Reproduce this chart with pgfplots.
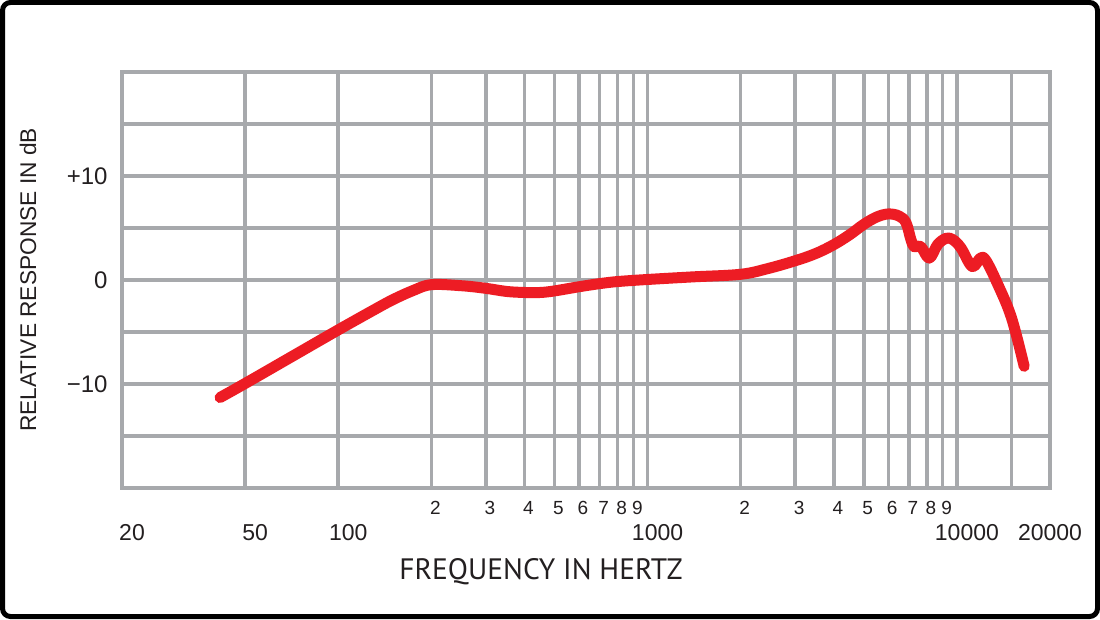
\documentclass[border=0pt]{standalone}
\usepackage{pgfplots}
\pgfplotsset{compat=1.18}
\usepackage{fontspec}
\setmainfont{Liberation Sans}
\newfontfamily\ptsans{PT Sans}
\definecolor{gridgray}{HTML}{A7A9AC}
\definecolor{curvered}{HTML}{ED1C24}
\definecolor{txt}{HTML}{231F20}
\begin{document}
\begin{tikzpicture}
\useasboundingbox (0,0) rectangle (1100pt,619pt);
\fill[white] (0,0) rectangle (1100pt,619pt);
\begin{axis}[
  at={(122pt,131pt)}, anchor=south west,
  scale only axis, width=928pt, height=416pt,
  xmode=log, xmin=20, xmax=20000, ymin=-20, ymax=20,
  axis line style={gridgray, line width=3.5pt},
  grid style={gridgray, line width=3.5pt},
  xmajorgrids, ymajorgrids,
  major tick length=0pt, minor tick length=0pt,
  xtick={200,300,400,500,600,700,800,900,2000,3000,4000,5000,6000,7000,8000,9000},
  xticklabels={2,3,4,5,6,7,8,9,2,3,4,5,6,7,8,9},
  xticklabel style={font=\fontsize{19}{20}\selectfont, anchor=center, yshift=-20pt, xshift=4pt, text=txt},
  extra x ticks={20,50,100,1000,10000,15000,20000},
  extra x tick labels={20,50,100,1000,10000,,\hspace*{-20pt}20000},
  extra x tick style={grid=major, xticklabel style={font=\fontsize{23}{24}\selectfont, yshift=-25pt, xshift=6pt}},
  ytick={-15,-10,-5,0,5,10,15},
  yticklabels={,−10,,0,,+10,},
  yticklabel style={font=\fontsize{24}{25}\selectfont, anchor=east, xshift=-11pt, text=txt},
  xlabel={FREQUENCY IN HERTZ},
  ylabel={RELATIVE RESPONSE IN dB},
  xlabel style={at={(axis description cs:0.4515,-0.202)}, anchor=center, font=\ptsans\fontsize{29.5}{30}\selectfont, text=txt},
  ylabel style={at={(axis description cs:-0.1013,0.5)}, anchor=center, font=\fontsize{22.7}{24}\selectfont, text=txt},
]
\addplot[curvered, line width=11pt, line cap=round, line join=round, smooth, tension=0.6] coordinates {
(41.5,-11.3) (50,-9.95) (70,-7.45) (100,-4.8) (130,-2.9) (150,-1.9) (175,-1.0) (200,-0.45)
(250,-0.55) (300,-0.8) (350,-1.1) (400,-1.2) (450,-1.2) (500,-1.05) (600,-0.65) (700,-0.35)
(800,-0.15) (1000,0.05) (1400,0.3) (2000,0.55) (2450,1.1) (3000,1.85) (3500,2.55) (4000,3.4)
(4500,4.35) (5000,5.35) (5500,6.05) (6000,6.35) (6500,6.15) (6850,5.5) (7100,3.9) (7280,3.2)
(7650,3.2) (8140,2.1) (8660,3.4) (9220,4.0) (9680,3.9) (10300,3.1) (11200,1.3)
(11900,2.1) (12400,1.9) (13500,-0.3) (15000,-3.6) (16500,-8.3)
};
\end{axis}
\draw[black, line width=5pt, rounded corners=8pt] (2.5pt,2.5pt) rectangle (1097.5pt,616.5pt);
\end{tikzpicture}
\end{document}
